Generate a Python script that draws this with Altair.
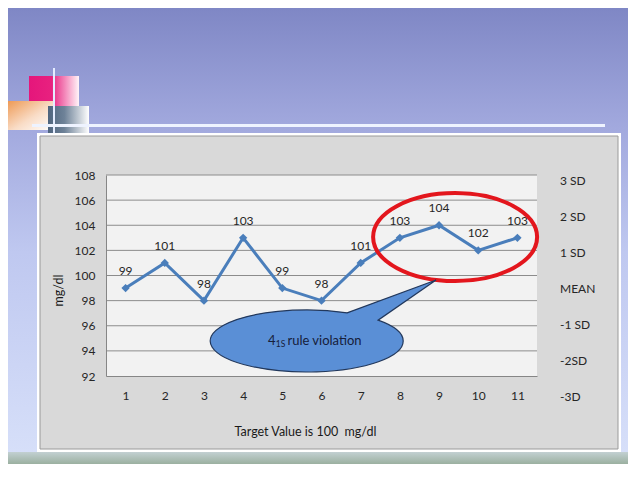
import altair as alt
import pandas as pd

# ---------------- data ----------------
runs = list(range(1, 12))
values = [99, 101, 98, 103, 99, 98, 101, 103, 104, 102, 103]
y_ticks = [94, 96, 98, 100, 102, 104, 106, 108]
y_axis_values = [92, 94, 96, 98, 100, 102, 104, 106, 108]
sd_levels = [3, 2, 1, 0, -1, -2, -3]
sd_labels = ["3 SD", "2 SD", "1 SD", "MEAN", "-1 SD", "-2SD", "-3D"]
violation_x = [9.41]
violation_y = [103.06]
callout_x = [5.62]
callout_y = [94.79]

FONT = "Lato"
W, H = 431, 201
PAD_L, PAD_T = 98, 167
TOTAL_W, TOTAL_H = 620, 456
OX, OY = 106, 175  # plot origin in page pixels


def ix(v):
    return v - OX


def iy(v):
    return v - OY


one = pd.DataFrame({"k": [0]})


def grad(stops, horizontal=False):
    return {
        "gradient": "linear",
        "stops": [{"offset": o, "color": c} for o, c in stops],
        "x1": 0, "y1": 0,
        "x2": 1 if horizontal else 0,
        "y2": 0 if horizontal else 1,
    }


def box(x1, y1, x2, y2, **mark):
    return alt.Chart(one).mark_rect(**mark).encode(
        x=alt.value(ix(x1)), x2=alt.value(ix(x2)),
        y=alt.value(iy(y1)), y2=alt.value(iy(y2)),
    )


# ---------------- slide decoration ----------------
bg = box(8, 8, 8 + TOTAL_W, 452, fill=grad([
    (0.0, "#7f87c5"), (0.27, "#a2a9de"), (0.55, "#bfc8f0"), (1.0, "#d6dff9")]))
band = box(8, 452, 8 + TOTAL_W, 8 + TOTAL_H, fill=grad([
    (0.0, "#c2d0d2"), (1.0, "#9bb0a0")]))
pink = box(29, 76, 79, 106, fill=grad([
    (0.0, "#e5167b"), (0.45, "#e8217f"), (1.0, "#fff4f8")], horizontal=True))
orange = box(8, 101, 53, 130, fill={
    "gradient": "linear", "x1": 0, "y1": 0, "x2": 1, "y2": 1,
    "stops": [{"offset": 0, "color": "#ee9a55"}, {"offset": 0.55, "color": "#f9dcc6"},
              {"offset": 1, "color": "#ffffff"}]})
slate = box(48, 106, 89, 133, fill=grad([
    (0.0, "#4e647e"), (0.4, "#6e8298"), (1.0, "#ffffff")], horizontal=True))
vline = box(53, 68, 55, 133, fill="#e4ecff")
hline = box(32, 124, 605, 127, fill="#eef3ff")
panel_outer = box(37, 133, 621, 452, fill="#ffffff")
panel = box(40, 136, 618, 449, fill="#d9d9d9", stroke="#9a9a9a", strokeWidth=1)
plot_bg = box(106, 175, 537, 376, fill="#f2f2f2")

# ---------------- chart ----------------
xscale = alt.Scale(domain=[0.5, 11.5], nice=False, zero=False)
yscale = alt.Scale(domain=[92, 108], nice=False, zero=False)

df = pd.DataFrame({"run": runs, "value": values})
grid_df = pd.DataFrame({"value": y_ticks})
sd_df = pd.DataFrame({"sd": sd_levels, "label": sd_labels})
viol_df = pd.DataFrame({"run": violation_x, "value": violation_y})
call_df = pd.DataFrame({"run": callout_x, "value": callout_y})

x_axis = alt.Axis(
    values=runs, grid=False, ticks=False, domain=True, domainColor="#868686",
    labelFont=FONT, labelFontSize=12, labelColor="#262626", labelPadding=14,
    title="Target Value is 100\u00a0\u00a0mg/dl", titleFont=FONT, titleFontSize=12.5,
    titleFontWeight="normal", titleColor="#1a1a1a", titleX=199, titleY=55,
    titleBaseline="middle", titleAlign="center", zindex=1)
y_axis = alt.Axis(
    values=y_axis_values, grid=False, ticks=False, domain=True, domainColor="#868686",
    labelFont=FONT, labelFontSize=12, labelColor="#262626", labelPadding=11,
    title="mg/dl", titleFont=FONT, titleFontSize=12.5, titleFontWeight="normal",
    titleColor="#1a1a1a", titleX=-48, titleY=115, titleBaseline="middle",
    titleAlign="center", titleAngle=270, zindex=1)

X = alt.X("run:Q", scale=xscale, axis=x_axis)
Y = alt.Y("value:Q", scale=yscale, axis=y_axis)

grid = alt.Chart(grid_df).mark_rule(color="#8c8c8c", strokeWidth=1).encode(y=Y)

line = alt.Chart(df).mark_line(color="#4a7ebb", strokeWidth=3).encode(x=X, y=Y)

pts = alt.Chart(df).mark_point(shape="diamond", filled=True, color="#4a7ebb",
                               size=70, opacity=1).encode(x=X, y=Y)

lbl = alt.Chart(df).mark_text(font=FONT, fontSize=12, color="#262626",
                              dy=-17, baseline="middle").encode(
    x=X, y=Y, text=alt.Text("value:Q"))

ellipse_path = "M -1 0 A 1 0.537 0 1 1 1 0 A 1 0.537 0 1 1 -1 0 Z"
viol = alt.Chart(viol_df).mark_point(shape=ellipse_path, size=164 * 164, filled=False,
                                     stroke="#e3161d", strokeWidth=4, opacity=1).encode(
    x=X, y=Y)

callout_path = ("M 0.405 -0.281 L 1.295 -0.61 L 0.715 -0.208 "
                "A 0.965 0.31 0 1 1 0.405 -0.281 Z")
callout = alt.Chart(call_df).mark_point(shape=callout_path, size=40000, filled=True,
                                        fill="#5a8fd6", stroke="#22385c",
                                        strokeWidth=1.2, opacity=1).encode(x=X, y=Y)


def ctext(txt, dx, dy, size, align):
    return alt.Chart(call_df).mark_text(
        text=txt, font=FONT, fontSize=size, color="#16203a", dx=dx, dy=dy,
        align=align, baseline="middle").encode(x=X, y=Y)


t4 = ctext("4", -31, 0, 13, "right")
t1s = ctext("1S", -30.8, 3.5, 8.5, "left")
trule = ctext("rule violation", -19.2, 0, 13, "left")

inner = alt.layer(grid, line, pts, lbl, viol, callout, t4, t1s, trule)

sd_text = alt.Chart(sd_df).mark_text(font=FONT, fontSize=12, color="#262626",
                                     align="left", baseline="middle").encode(
    x=alt.value(ix(560)),
    y=alt.Y("sd:Q", scale=alt.Scale(domain=[-3, 3], range=[222, 6]), axis=None),
    text="label:N")

chart = alt.layer(
    bg, band, pink, orange, slate, vline, hline, panel_outer, panel, plot_bg,
    inner, sd_text,
).resolve_scale(y="independent").properties(
    width=W, height=H,
    padding={"left": PAD_L, "top": PAD_T,
             "right": TOTAL_W - PAD_L - W, "bottom": TOTAL_H - PAD_T - H},
    autosize=alt.AutoSizeParams(type="none"),
    background="#c8d0f2",
).configure_view(stroke=None)

chart.save("out.html", embed_options={"renderer": "svg", "actions": False})
